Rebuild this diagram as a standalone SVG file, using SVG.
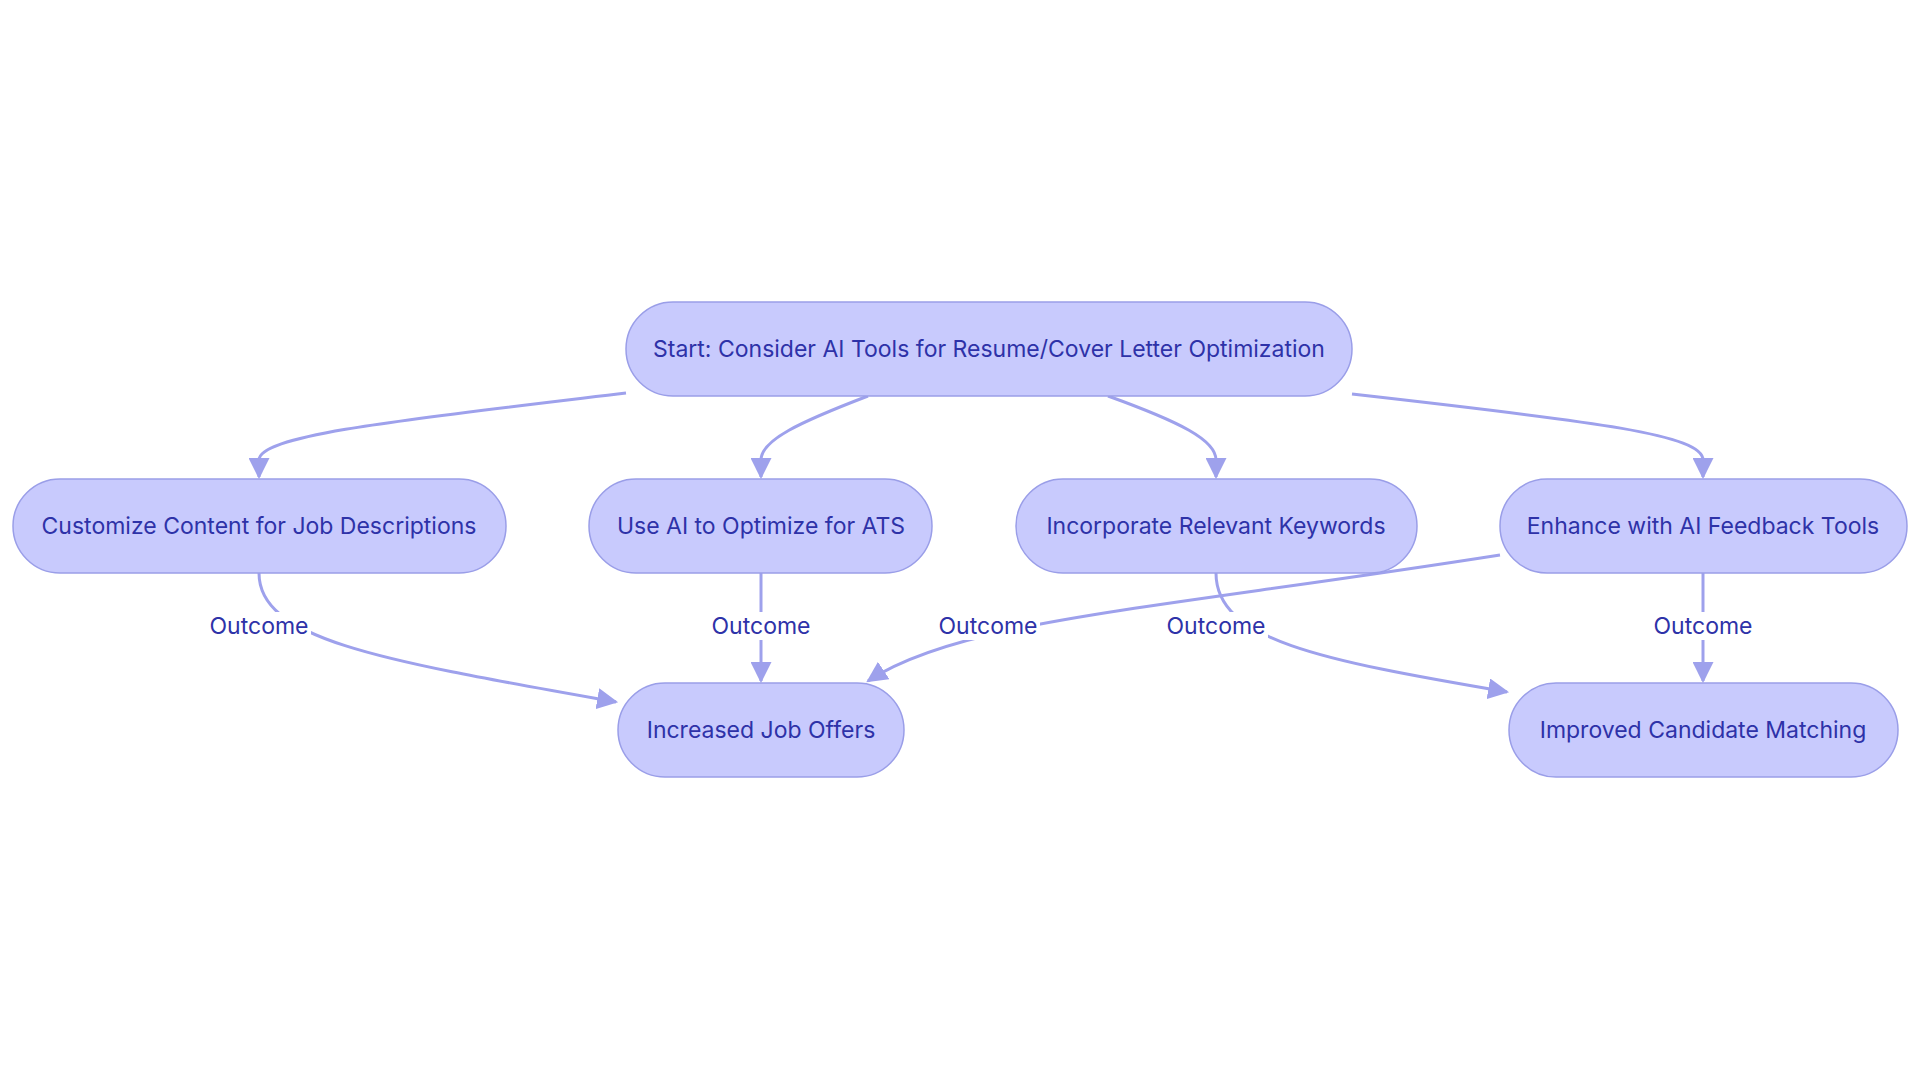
<svg xmlns="http://www.w3.org/2000/svg" width="1920" height="1083" viewBox="0 0 1920 1083">
<style>
.n{fill:#c8cafd;stroke:#9a9ee8;stroke-width:1.5}
.t{font-family:Inter,"Liberation Sans",sans-serif;font-size:23px;fill:#2e32a8;text-anchor:middle;dominant-baseline:central}
.e{fill:none;stroke:#9ea1ec;stroke-width:3}
.lb{fill:#fff}
</style>
<defs><marker id="a" viewBox="0 0 10 10" refX="9" refY="5" markerWidth="7" markerHeight="7" markerUnits="strokeWidth" orient="auto"><path d="M0,0L10,5L0,10z" fill="#9ea1ec"/></marker></defs>
<rect width="1920" height="1083" fill="#fff"/>
<g id="edges">
<path class="e" marker-end="url(#a)" d="M626,393 C400,420 259,435 259,460 L259,477"/>
<path class="e" marker-end="url(#a)" d="M868,396 C800,422 761,440 761,460 L761,477"/>
<path class="e" marker-end="url(#a)" d="M1108,396 C1180,422 1216,440 1216,460 L1216,477"/>
<path class="e" marker-end="url(#a)" d="M1352,394 C1600,422 1703,435 1703,460 L1703,477"/>
<path class="e" marker-end="url(#a)" d="M259,573 C259,640 380,660 616,702"/>
<path class="e" marker-end="url(#a)" d="M761,573 L761,681"/>
<path class="e" marker-end="url(#a)" d="M1500,555 C1150,610 960,620 868,681"/>
<path class="e" marker-end="url(#a)" d="M1216,573 C1216,640 1320,660 1507,692"/>
<path class="e" marker-end="url(#a)" d="M1703,573 L1703,681"/>
</g>
<g id="labels">
<rect class="lb" x="207" y="612" width="104" height="28"/><text class="t" x="259" y="626">Outcome</text>
<rect class="lb" x="709" y="612" width="104" height="28"/><text class="t" x="761" y="626">Outcome</text>
<rect class="lb" x="936" y="612" width="104" height="28"/><text class="t" x="988" y="626">Outcome</text>
<rect class="lb" x="1164" y="612" width="104" height="28"/><text class="t" x="1216" y="626">Outcome</text>
<rect class="lb" x="1651" y="612" width="104" height="28"/><text class="t" x="1703" y="626">Outcome</text>
</g>
<g id="start"><rect class="n" x="626" y="302" width="726" height="94" rx="47"/><text class="t" x="989" y="349">Start: Consider AI Tools for Resume/Cover Letter Optimization</text></g>
<g id="customize"><rect class="n" x="13" y="479" width="493" height="94" rx="47"/><text class="t" x="259" y="526">Customize Content for Job Descriptions</text></g>
<g id="useai"><rect class="n" x="589" y="479" width="343" height="94" rx="47"/><text class="t" x="761" y="526">Use AI to Optimize for ATS</text></g>
<g id="keywords"><rect class="n" x="1016" y="479" width="401" height="94" rx="47"/><text class="t" x="1216" y="526">Incorporate Relevant Keywords</text></g>
<g id="enhance"><rect class="n" x="1500" y="479" width="407" height="94" rx="47"/><text class="t" x="1703" y="526">Enhance with AI Feedback Tools</text></g>
<g id="offers"><rect class="n" x="618" y="683" width="286" height="94" rx="47"/><text class="t" x="761" y="730">Increased Job Offers</text></g>
<g id="matching"><rect class="n" x="1509" y="683" width="389" height="94" rx="47"/><text class="t" x="1703" y="730">Improved Candidate Matching</text></g>
</svg>
